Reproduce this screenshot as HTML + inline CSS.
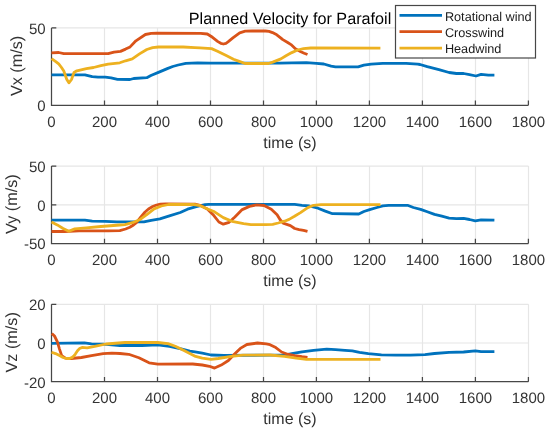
<!DOCTYPE html>
<html><head><meta charset="utf-8"><style>
html,body{margin:0;padding:0;background:#fff;width:550px;height:433px;overflow:hidden}
svg{display:block;will-change:transform}
text{font-family:"Liberation Sans",sans-serif;text-rendering:geometricPrecision}
</style></head><body>
<svg width="550" height="433" viewBox="0 0 550 433">
<path d="M104.5 27.9V105.3M157.5 27.9V105.3M210.5 27.9V105.3M263.5 27.9V105.3M316.5 27.9V105.3M369.5 27.9V105.3M422.5 27.9V105.3M475.5 27.9V105.3M528.5 27.9V105.3M51.5 27.9H528.4" stroke="#e6e6e6" stroke-width="1.2" fill="none"/>
<path d="M51.5 27.9V105.3H528.4M51.5 105.3v-4.8M104.5 105.3v-4.8M157.5 105.3v-4.8M210.5 105.3v-4.8M263.5 105.3v-4.8M316.4 105.3v-4.8M369.4 105.3v-4.8M422.4 105.3v-4.8M475.4 105.3v-4.8M528.4 105.3v-4.8M51.5 27.9h4.8M51.5 105.3h4.8" stroke="#474747" stroke-width="1.25" fill="none"/>
<polyline points="51.5,74.9 79.1,74.9 84.9,74.8 92.2,76.6 98.0,77.1 105.3,77.2 111.1,77.9 117.5,79.4 130.0,79.5 133.7,78.5 146.8,77.7 150.9,75.5 159.6,71.9 167.3,68.6 172.7,66.5 178.2,65.0 185.8,63.3 197.7,62.9 210.0,63.1 280.0,63.2 291.8,62.9 306.4,62.6 316.5,63.3 323.8,64.0 331.1,66.2 335.5,66.9 358.1,66.9 363.9,65.2 371.2,64.1 382.8,63.4 406.1,63.4 417.7,64.1 420.0,64.5 427.3,66.7 438.9,69.6 449.1,72.5 456.4,73.5 463.6,73.5 469.5,74.7 476.0,76.0 481.1,74.3 488.4,75.1 494.4,75.1" fill="none" stroke="#0072BD" stroke-width="2.8" stroke-linejoin="round" stroke-linecap="butt"/>
<polyline points="51.5,52.9 58.7,52.5 63.8,53.6 108.2,53.6 114.0,52.1 120.5,51.4 125.6,49.1 130.1,46.9 135.9,40.8 145.4,34.5 151.2,33.4 157.0,33.1 200.6,33.4 207.3,34.0 212.5,37.3 217.9,41.6 220.8,43.3 223.4,44.0 226.0,43.3 228.0,41.9 233.2,37.7 239.7,32.8 245.2,31.2 252.4,31.0 265.5,31.0 269.0,31.4 272.5,32.6 276.8,34.8 280.0,37.3 282.8,39.6 287.7,42.5 291.0,44.6 295.4,48.8 300.8,51.7 304.2,53.2 307.5,54.5" fill="none" stroke="#D95319" stroke-width="2.8" stroke-linejoin="round" stroke-linecap="butt"/>
<polyline points="51.5,58.6 55.8,61.6 58.7,63.9 61.5,67.5 63.8,71.0 66.7,79.2 68.9,82.9 71.5,79.5 74.0,72.5 76.9,70.8 86.4,68.6 93.6,67.5 100.9,65.7 108.2,64.2 119.8,62.8 125.6,60.8 132.3,58.9 139.5,53.9 146.8,49.5 152.6,47.6 158.5,47.0 183.2,47.0 194.8,47.6 200.0,47.9 211.6,48.6 217.5,51.2 226.2,55.5 233.5,59.2 239.3,61.4 245.1,63.5 268.4,63.5 272.7,62.1 280.9,58.9 286.0,55.8 291.8,52.6 297.6,50.0 303.5,48.7 310.7,48.0 380.4,48.2" fill="none" stroke="#EDB120" stroke-width="2.8" stroke-linejoin="round" stroke-linecap="butt"/>
<text x="51.5" y="126.5" font-size="15.0" fill="#333333" text-anchor="middle">0</text>
<text x="104.5" y="126.5" font-size="15.0" fill="#333333" text-anchor="middle">200</text>
<text x="157.5" y="126.5" font-size="15.0" fill="#333333" text-anchor="middle">400</text>
<text x="210.5" y="126.5" font-size="15.0" fill="#333333" text-anchor="middle">600</text>
<text x="263.5" y="126.5" font-size="15.0" fill="#333333" text-anchor="middle">800</text>
<text x="316.4" y="126.5" font-size="15.0" fill="#333333" text-anchor="middle">1000</text>
<text x="369.4" y="126.5" font-size="15.0" fill="#333333" text-anchor="middle">1200</text>
<text x="422.4" y="126.5" font-size="15.0" fill="#333333" text-anchor="middle">1400</text>
<text x="475.4" y="126.5" font-size="15.0" fill="#333333" text-anchor="middle">1600</text>
<text x="528.4" y="126.5" font-size="15.0" fill="#333333" text-anchor="middle">1800</text>
<text x="45.6" y="33.8" font-size="15.0" fill="#333333" text-anchor="end">50</text>
<text x="45.6" y="111.2" font-size="15.0" fill="#333333" text-anchor="end">0</text>
<text x="290" y="147.6" font-size="16" fill="#333333" text-anchor="middle">time (s)</text>
<text transform="translate(21.9 65.9) rotate(-90)" x="0" y="0" font-size="16.2" fill="#333333" text-anchor="middle">Vx (m/s)</text>
<path d="M104.5 166.1V243.5M157.5 166.1V243.5M210.5 166.1V243.5M263.5 166.1V243.5M316.5 166.1V243.5M369.5 166.1V243.5M422.5 166.1V243.5M475.5 166.1V243.5M528.5 166.1V243.5M51.5 166.1H528.4M51.5 204.8H528.4" stroke="#e6e6e6" stroke-width="1.2" fill="none"/>
<path d="M51.5 166.1V243.5H528.4M51.5 243.5v-4.8M104.5 243.5v-4.8M157.5 243.5v-4.8M210.5 243.5v-4.8M263.5 243.5v-4.8M316.4 243.5v-4.8M369.4 243.5v-4.8M422.4 243.5v-4.8M475.4 243.5v-4.8M528.4 243.5v-4.8M51.5 166.1h4.8M51.5 204.8h4.8M51.5 243.5h4.8" stroke="#474747" stroke-width="1.25" fill="none"/>
<polyline points="51.5,220.2 84.9,220.2 92.2,221.2 105.3,221.4 116.9,221.9 143.9,221.8 151.2,220.3 159.9,218.8 168.6,216.2 180.3,212.5 187.5,209.2 196.3,206.7 205.0,204.7 208.7,204.4 294.7,204.4 302.0,205.3 309.3,206.0 318.0,208.2 325.3,211.1 332.5,213.7 358.8,214.0 363.9,211.5 369.7,209.6 377.0,207.5 382.8,205.8 388.6,205.3 407.5,205.3 413.4,207.5 420.6,209.4 427.3,211.8 434.5,214.4 441.8,216.2 449.1,218.1 456.4,218.7 463.6,218.4 469.5,219.5 475.3,220.8 481.1,219.8 494.4,220.2" fill="none" stroke="#0072BD" stroke-width="2.8" stroke-linejoin="round" stroke-linecap="butt"/>
<polyline points="51.5,231.5 64.5,231.5 79.1,230.9 108.2,230.8 119.8,230.6 125.6,229.0 129.8,227.3 133.5,225.0 136.4,222.6 140.5,217.5 145.1,212.0 148.5,209.0 152.7,206.5 156.5,205.0 160.3,204.2 165.8,203.8 195.0,204.2 200.0,205.3 207.3,208.9 213.1,214.7 218.9,222.0 223.3,224.2 229.1,222.3 234.9,216.9 242.2,209.6 249.5,206.4 256.7,204.8 264.0,205.5 271.3,209.2 277.1,214.7 280.0,219.5 283.1,223.2 290.4,225.6 294.7,228.5 299.1,229.6 303.5,230.4 307.5,231.4" fill="none" stroke="#D95319" stroke-width="2.8" stroke-linejoin="round" stroke-linecap="butt"/>
<polyline points="51.5,222.0 57.3,224.9 63.1,228.5 68.9,231.3 74.7,228.9 86.4,227.9 100.9,226.5 119.8,225.0 125.0,224.6 132.3,222.7 139.5,219.8 146.8,214.7 154.1,208.9 161.4,206.0 168.6,204.5 193.4,204.5 199.2,205.3 205.8,208.2 214.5,211.8 223.3,217.6 232.0,221.3 243.6,223.7 250.9,224.6 265.5,224.6 272.7,224.3 278.2,223.0 284.5,221.2 289.1,219.4 294.5,216.3 300.5,212.6 307.8,207.6 313.6,205.3 320.9,204.7 380.5,204.7" fill="none" stroke="#EDB120" stroke-width="2.8" stroke-linejoin="round" stroke-linecap="butt"/>
<text x="51.5" y="264.7" font-size="15.0" fill="#333333" text-anchor="middle">0</text>
<text x="104.5" y="264.7" font-size="15.0" fill="#333333" text-anchor="middle">200</text>
<text x="157.5" y="264.7" font-size="15.0" fill="#333333" text-anchor="middle">400</text>
<text x="210.5" y="264.7" font-size="15.0" fill="#333333" text-anchor="middle">600</text>
<text x="263.5" y="264.7" font-size="15.0" fill="#333333" text-anchor="middle">800</text>
<text x="316.4" y="264.7" font-size="15.0" fill="#333333" text-anchor="middle">1000</text>
<text x="369.4" y="264.7" font-size="15.0" fill="#333333" text-anchor="middle">1200</text>
<text x="422.4" y="264.7" font-size="15.0" fill="#333333" text-anchor="middle">1400</text>
<text x="475.4" y="264.7" font-size="15.0" fill="#333333" text-anchor="middle">1600</text>
<text x="528.4" y="264.7" font-size="15.0" fill="#333333" text-anchor="middle">1800</text>
<text x="45.6" y="172.0" font-size="15.0" fill="#333333" text-anchor="end">50</text>
<text x="45.6" y="210.7" font-size="15.0" fill="#333333" text-anchor="end">0</text>
<text x="45.6" y="249.4" font-size="15.0" fill="#333333" text-anchor="end">-50</text>
<text x="290" y="285.8" font-size="16" fill="#333333" text-anchor="middle">time (s)</text>
<text transform="translate(17.0 204.1) rotate(-90)" x="0" y="0" font-size="16.2" fill="#333333" text-anchor="middle">Vy (m/s)</text>
<path d="M104.5 304.3V381.7M157.5 304.3V381.7M210.5 304.3V381.7M263.5 304.3V381.7M316.5 304.3V381.7M369.5 304.3V381.7M422.5 304.3V381.7M475.5 304.3V381.7M528.5 304.3V381.7M51.5 304.3H528.4M51.5 343.0H528.4" stroke="#e6e6e6" stroke-width="1.2" fill="none"/>
<path d="M51.5 304.3V381.7H528.4M51.5 381.7v-4.8M104.5 381.7v-4.8M157.5 381.7v-4.8M210.5 381.7v-4.8M263.5 381.7v-4.8M316.4 381.7v-4.8M369.4 381.7v-4.8M422.4 381.7v-4.8M475.4 381.7v-4.8M528.4 381.7v-4.8M51.5 304.3h4.8M51.5 343.0h4.8M51.5 381.7h4.8" stroke="#474747" stroke-width="1.25" fill="none"/>
<polyline points="51.5,343.3 84.3,342.9 91.5,343.9 103.2,344.2 120.0,345.5 141.8,345.5 157.8,344.8 169.5,346.3 181.1,348.8 189.8,351.2 195.0,351.8 202.3,353.2 211.0,355.0 224.1,355.4 270.0,355.2 284.5,355.2 291.8,353.7 302.0,351.8 313.6,350.3 326.7,349.2 335.5,349.6 345.0,350.3 352.3,350.8 359.5,352.3 368.3,353.7 381.4,354.9 395.9,355.2 410.5,355.2 425.0,354.6 434.5,353.5 449.1,352.3 463.6,352.0 475.3,350.8 481.1,351.6 494.4,351.6" fill="none" stroke="#0072BD" stroke-width="2.8" stroke-linejoin="round" stroke-linecap="butt"/>
<polyline points="51.8,333.4 54.5,336.0 57.4,341.8 59.5,349.1 61.7,355.6 65.4,358.1 71.2,358.5 81.4,357.5 91.5,355.6 103.2,353.7 111.9,353.2 120.0,353.5 128.7,354.3 138.9,357.8 149.1,362.8 157.8,364.2 192.7,364.0 202.3,365.0 209.5,366.3 214.6,368.1 221.2,365.1 228.4,360.5 234.3,354.3 240.3,348.4 246.9,344.5 257.5,343.0 266.3,343.9 270.0,344.7 275.8,347.6 281.6,352.0 287.5,354.2 294.7,355.6 302.0,356.7 307.5,357.4" fill="none" stroke="#D95319" stroke-width="2.8" stroke-linejoin="round" stroke-linecap="butt"/>
<polyline points="51.5,352.2 55.5,353.6 59.5,355.6 63.0,357.5 66.5,358.5 69.5,358.5 72.2,357.4 74.0,355.8 75.5,353.8 77.5,350.8 79.5,348.6 82.1,347.4 87.2,347.9 95.9,346.2 106.1,344.0 125.0,342.5 157.8,342.5 168.0,343.6 175.3,346.2 182.5,349.8 189.8,353.5 195.6,356.4 202.3,358.1 211.0,359.3 218.3,358.5 231.4,356.4 243.0,355.2 270.0,355.0 284.5,356.4 296.2,358.1 306.4,359.3 380.5,359.3" fill="none" stroke="#EDB120" stroke-width="2.8" stroke-linejoin="round" stroke-linecap="butt"/>
<text x="51.5" y="402.9" font-size="15.0" fill="#333333" text-anchor="middle">0</text>
<text x="104.5" y="402.9" font-size="15.0" fill="#333333" text-anchor="middle">200</text>
<text x="157.5" y="402.9" font-size="15.0" fill="#333333" text-anchor="middle">400</text>
<text x="210.5" y="402.9" font-size="15.0" fill="#333333" text-anchor="middle">600</text>
<text x="263.5" y="402.9" font-size="15.0" fill="#333333" text-anchor="middle">800</text>
<text x="316.4" y="402.9" font-size="15.0" fill="#333333" text-anchor="middle">1000</text>
<text x="369.4" y="402.9" font-size="15.0" fill="#333333" text-anchor="middle">1200</text>
<text x="422.4" y="402.9" font-size="15.0" fill="#333333" text-anchor="middle">1400</text>
<text x="475.4" y="402.9" font-size="15.0" fill="#333333" text-anchor="middle">1600</text>
<text x="528.4" y="402.9" font-size="15.0" fill="#333333" text-anchor="middle">1800</text>
<text x="45.6" y="310.2" font-size="15.0" fill="#333333" text-anchor="end">20</text>
<text x="45.6" y="348.9" font-size="15.0" fill="#333333" text-anchor="end">0</text>
<text x="45.6" y="387.6" font-size="15.0" fill="#333333" text-anchor="end">-20</text>
<text x="290" y="424.0" font-size="16" fill="#333333" text-anchor="middle">time (s)</text>
<text transform="translate(17.0 342.3) rotate(-90)" x="0" y="0" font-size="16.2" fill="#333333" text-anchor="middle">Vz (m/s)</text>
<text x="290" y="23.6" font-size="16.2" fill="#000" text-anchor="middle">Planned Velocity for Parafoil</text>
<rect x="395.5" y="5.5" width="140" height="52.5" fill="#fff" stroke="#474747" stroke-width="1.2"/>
<line x1="399.5" y1="15.3" x2="442" y2="15.3" stroke="#0072BD" stroke-width="2.8"/>
<text x="444.9" y="20.6" font-size="12.7" fill="#1a1a1a">Rotational wind</text>
<line x1="399.5" y1="31.7" x2="442" y2="31.7" stroke="#D95319" stroke-width="2.8"/>
<text x="444.9" y="37.0" font-size="12.7" fill="#1a1a1a">Crosswind</text>
<line x1="399.5" y1="48.1" x2="442" y2="48.1" stroke="#EDB120" stroke-width="2.8"/>
<text x="444.9" y="53.4" font-size="12.7" fill="#1a1a1a">Headwind</text>
</svg></body></html>
